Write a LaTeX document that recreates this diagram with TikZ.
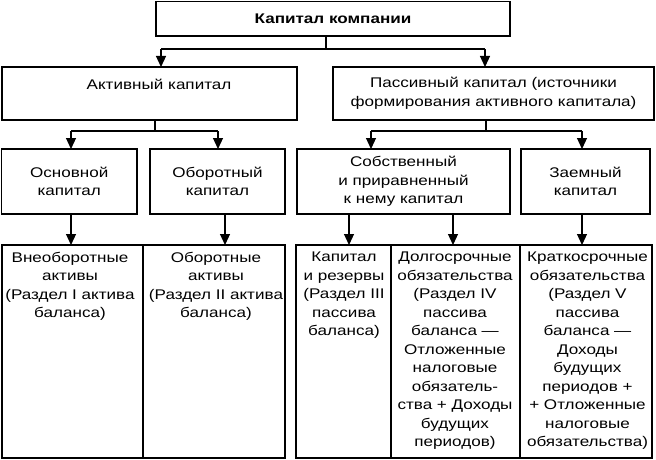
\documentclass[tikz,border=0pt]{standalone}
\usepackage{fontspec}
\setmainfont{Liberation Sans}[FakeStretch=1.22]
\usetikzlibrary{arrows.meta}
\newcommand{\fsn}{\fontsize{14}{18.5}\selectfont}
\newcommand{\fsbold}{\fontsize{14}{18.5}\selectfont\bfseries}
\begin{document}
\begin{tikzpicture}[x=1pt,y=1pt,
 box/.style={draw, line width=1.2pt, inner sep=0pt, outer sep=0pt, align=center, font=\fsn},
 lab/.style={inner sep=0pt, align=center, anchor=north, font=\fsn},
 arr/.style={line width=1.2pt, -{Triangle[length=11pt,width=10pt]}},
 ln/.style={line width=1.2pt}]
\useasboundingbox (0,0) rectangle (656,-460);
% boxes
\node[box, font=\fsbold, minimum width=354, minimum height=34.5] (top) at (333,-18.75) {Капитал компании};
\node[box, minimum width=295, minimum height=53] (act) at (149.5,-93.5) {};
\node[lab] (actl) at (159,-79) {Активный капитал};
\node[box, minimum width=321, minimum height=53] (pas) at (493.5,-93.5) {Пассивный капитал (источники\\формирования активного капитала)};
\node[box, minimum width=135.5, minimum height=65] (osn) at (69.25,-181.5) {Основной\\капитал};
\node[box, minimum width=135, minimum height=65] (obo) at (217.5,-181.5) {Оборотный\\капитал};
\node[box, minimum width=213, minimum height=65] (sob) at (403.5,-181.5) {Собственный\\и приравненный\\к нему капитал};
\node[box, minimum width=129, minimum height=65] (zae) at (585.5,-181.5) {Заемный\\капитал};
\node[box, minimum width=141, minimum height=213] (b1) at (72.5,-351.5) {};
\node[box, minimum width=142, minimum height=213] (b2) at (214,-351.5) {};
\node[box, minimum width=95, minimum height=213] (b3) at (343.5,-351.5) {};
\node[box, minimum width=129, minimum height=213] (b4) at (455.5,-351.5) {};
\node[box, minimum width=132, minimum height=213] (b5) at (586,-351.5) {};
\node[lab] (l1) at (70,-252) {Внеоборотные\\активы\\(Раздел I актива\\баланса)};
\node[lab] (l2) at (216,-252) {Оборотные\\активы\\(Раздел II актива\\баланса)};
\node[lab] (l3) at (344,-252) {Капитал\\и резервы\\(Раздел III\\пассива\\баланса)};
\node[lab] (l4) at (455,-252) {Долгосрочные\\обязательства\\(Раздел IV\\пассива\\баланса —\\Отложенные\\налоговые\\обязатель-\\ства + Доходы\\будущих\\периодов)};
\node[lab] (l5) at (587.5,-252) {Краткосрочные\\обязательства\\(Раздел V\\пассива\\баланса —\\Доходы\\будущих\\периодов +\\+ Отложенные\\налоговые\\обязательства)};
% junctions
\coordinate (t0) at (326,-49);
\coordinate (ta) at (161,-49);
\coordinate (tp) at (485,-49);
\coordinate (a0) at (155,-131);
\coordinate (ao) at (71,-131);
\coordinate (ab) at (218,-131);
\coordinate (p0) at (486,-131);
\coordinate (ps) at (371,-131);
\coordinate (pz) at (582,-131);
\coordinate (x1) at (71,0);
\coordinate (x2) at (225,0);
\coordinate (x3) at (349,0);
\coordinate (x4) at (453,0);
\coordinate (x5) at (582,0);
% connectors
\draw[ln] (top.south -| t0) -- (t0);
\draw[ln] (ta) -- (tp);
\draw[arr] (ta) -- (ta |- act.north);
\draw[arr] (tp) -- (tp |- pas.north);
\draw[ln] (act.south -| a0) -- (a0);
\draw[ln] (ao) -- (ab);
\draw[arr] (ao) -- (ao |- osn.north);
\draw[arr] (ab) -- (ab |- obo.north);
\draw[ln] (pas.south -| p0) -- (p0);
\draw[ln] (ps) -- (pz);
\draw[arr] (ps) -- (ps |- sob.north);
\draw[arr] (pz) -- (pz |- zae.north);
\draw[arr] (osn.south -| x1) -- (b1.north -| x1);
\draw[arr] (obo.south -| x2) -- (b2.north -| x2);
\draw[arr] (sob.south -| x3) -- (b3.north -| x3);
\draw[arr] (sob.south -| x4) -- (b4.north -| x4);
\draw[arr] (zae.south -| x5) -- (b5.north -| x5);
\end{tikzpicture}
\end{document}
